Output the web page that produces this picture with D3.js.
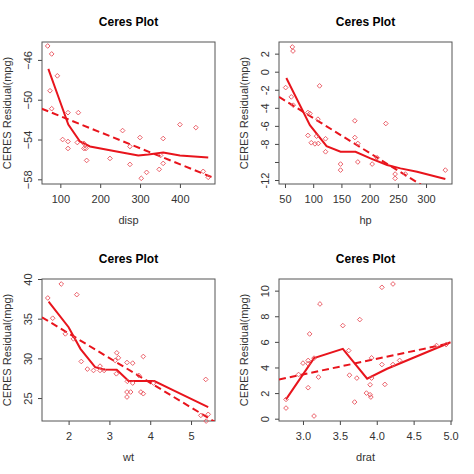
<!DOCTYPE html>
<html><head><meta charset="utf-8">
<script src="https://cdn.jsdelivr.net/npm/d3@7"></script>
<style>body{margin:0;background:#fff}text{font-family:"Liberation Sans",Arial,sans-serif}</style>
</head><body><svg id="c" width="474" height="474"></svg>
<script>
// disp
var dispPts = [[68.3,-44.6],[78.3,-45.4],[92.5,-47.6],[74.1,-49.1],[78.3,-50.9],[119.2,-51.3],[145.1,-51.3],[105.8,-54.0],[119.2,-54.2],[119.2,-54.9],[142.6,-54.3],[159.3,-54.4],[159.3,-54.9],[164.3,-54.9],[166,-56.1],[224.5,-55.9],[256.2,-53.1],[274.6,-54.7],[274.6,-56.5],[299.7,-53.8],[303,-57.9],[316.4,-57.3],[348,-57.0],[358,-53.9],[358,-56.4],[351.5,-55.6],[400,-52.5],[440,-52.8],[458.4,-57.2],[471,-57.8]];
var dispSmooth = [[69.9,-46.9],[95,-49.7],[120,-52.5],[149.3,-54.2],[174.4,-54.7],[241.2,-55.2],[295.5,-55.6],[320.6,-55.5],[358.1,-55.3],[400,-55.6],[471,-55.8]];
var dispFit = [[53.2,-50.9],[487.6,-57.9]];
// hp
var hpPts = [[63,2.74],[64.2,2.29],[51.2,-1.76],[61.2,-2.79],[64.7,-3.71],[90.7,-4.52],[94.2,-4.63],[111.3,-1.57],[108.4,-5.26],[90.7,-7.06],[96.6,-7.87],[103.1,-7.99],[109,-7.95],[106,-7.14],[121.9,-7.43],[121.9,-8.87],[148.5,-10.23],[148.5,-10.9],[173.8,-5.44],[173.8,-7.29],[179.1,-7.95],[179.1,-10.0],[204.5,-10.23],[213.3,-9.53],[228.7,-5.74],[245.2,-11.34],[245.2,-11.82],[263.4,-11.34],[334.2,-10.9]];
var hpSmooth = [[52.4,-0.69],[94.2,-5.92],[123.7,-8.24],[148.5,-8.87],[175,-8.87],[201.5,-9.61],[231,-10.34],[254.6,-10.71],[284.1,-11.08],[334.2,-11.89]];
var hpFit = [[39.4,-2.79],[346,-14.65]];
// wt
var wtPts = [[1.82,39.37],[1.49,37.61],[1.61,35.06],[1.92,33.09],[2.12,32.46],[2.2,38.03],[2.31,29.61],[2.46,28.65],[2.61,28.48],[2.77,29.02],[2.77,28.48],[2.87,28.48],[3.14,29.74],[3.18,30.7],[3.22,30.07],[3.17,28.06],[3.43,29.48],[3.44,27.1],[3.43,25.76],[3.43,25.13],[3.52,25.76],[3.57,29.4],[3.57,26.89],[3.72,27.85],[3.77,25.76],[3.83,30.24],[3.83,25.55],[4.08,26.89],[5.24,22.82],[5.36,27.35],[5.42,22.95],[5.37,22.1]];
var wtSmooth = [[1.51,37.15],[2,33.93],[2.29,31.2],[2.65,28.9],[2.86,28.6],[3.18,28.56],[3.47,27.14],[3.71,27.14],[4.1,27.14],[4.57,25.97],[5.42,23.87]];
var wtFit = [[1.348,35.18],[5.587,21.99]];
// drat
var dratPts = [[2.77,1.51],[2.77,0.83],[2.94,3.45],[3.0,4.34],[3.07,4.55],[3.07,4.29],[3.07,2.42],[3.09,6.62],[3.15,4.73],[3.15,0.21],[3.21,3.25],[3.23,8.96],[3.54,7.27],[3.62,5.32],[3.63,3.4],[3.7,1.3],[3.73,3.17],[3.77,7.74],[3.86,2.0],[3.91,2.65],[3.91,1.87],[3.92,1.69],[3.93,4.75],[3.93,3.17],[4.07,4.23],[4.07,10.26],[4.11,2.68],[4.22,4.23],[4.22,10.52],[4.31,4.55],[4.81,5.71],[4.94,5.79]];
var dratSmooth = [[2.77,1.51],[3.15,4.73],[3.54,5.45],[3.87,3.12],[4.14,3.9],[5.0,5.97]];
var dratFit = [[2.675,3.06],[5.0,5.9]];

var intFmt = d3.format("d");
var panels = [
  {name:"disp", pts:dispPts, smooth:dispSmooth, fit:dispFit, xd:[54,488], yd:[-58.47,-44.2], xt:[100,200,300,400], yt:[-46,-50,-54,-58], ylab:intFmt, xfmt:intFmt},
  {name:"hp", pts:hpPts, smooth:hpSmooth, fit:hpFit, xd:[39.4,346], yd:[-12.44,3.29], xt:[50,100,150,200,250,300], yt:[2,0,-2,-4,-6,-8,-10,-12], ylab:function(d){return d==-10?"":d;}, xfmt:intFmt},
  {name:"wt", pts:wtPts, smooth:wtSmooth, fit:wtFit, xd:[1.348,5.587], yd:[22.11,40], xt:[2,3,4,5], yt:[25,30,35,40], ylab:intFmt, xfmt:intFmt},
  {name:"drat", pts:dratPts, smooth:dratSmooth, fit:dratFit, xd:[2.675,5.02], yd:[-0.18,10.91], xt:[3,3.5,4,4.5,5], yt:[0,2,4,6,8,10], ylab:intFmt, xfmt:d3.format(".1f")}
];

var svg = d3.select("#c");
var red = "#e8141c";

panels.forEach(function(p, i)
{
	var ox = (i % 2) * 237, oy = Math.floor(i / 2) * 237;
	var L = 42, R = 215, T = 42, B = 184;
	var g = svg.append("g").attr("transform", "translate(" + ox + "," + oy + ")");
	var x = d3.scaleLinear().domain(p.xd).range([L, R]);
	var y = d3.scaleLinear().domain(p.yd).range([B, T]);
	var clipId = "clip" + i;
	g.append("clipPath").attr("id", clipId).append("rect").attr("x", L).attr("y", T).attr("width", R - L).attr("height", B - T);

	g.append("text").attr("x", (L + R) / 2).attr("y", 26).attr("text-anchor", "middle")
		.style("font-size", "12px").style("font-weight", "bold").text("Ceres Plot");

	// axes
	var xa = g.append("g").attr("transform", "translate(0," + B + ")")
		.call(d3.axisBottom(x).tickValues(p.xt).tickSize(4).tickSizeOuter(0).tickFormat(p.xfmt));
	var ya = g.append("g").attr("transform", "translate(" + L + ",0)")
		.call(d3.axisLeft(y).tickValues(p.yt).tickSize(4).tickSizeOuter(0).tickFormat(p.ylab));
	[xa, ya].forEach(function(a){
		a.selectAll("path").remove();
		a.selectAll("line").attr("stroke", "#444");
		a.selectAll("text").style("font-size", "11px").attr("fill", "#333");
	});
	xa.selectAll("text").attr("dy", "1.1em");
	ya.selectAll("text").attr("text-anchor", "middle").attr("dy", 0).attr("x", 0)
		.attr("transform", "translate(-10,0) rotate(-90)");

	g.append("rect").attr("x", L).attr("y", T).attr("width", R - L).attr("height", B - T)
		.attr("fill", "none").attr("stroke", "#555").attr("stroke-width", 1);

	g.append("text").attr("x", (L + R) / 2).attr("y", 224).attr("text-anchor", "middle")
		.style("font-size", "11px").attr("fill", "#333").text(p.name);
	g.append("text").attr("transform", "translate(11," + (T + B) / 2 + ") rotate(-90)").attr("text-anchor", "middle")
		.style("font-size", "11px").attr("fill", "#333").text("CERES Residual(mpg)");

	var plot = g.append("g").attr("clip-path", "url(#" + clipId + ")");
	var line = d3.line().x(function(d){ return x(d[0]); }).y(function(d){ return y(d[1]); });
	plot.append("path").attr("d", line(p.fit)).attr("fill", "none").attr("stroke", red)
		.attr("stroke-width", 2).attr("stroke-dasharray", "7,4");
	plot.append("path").attr("d", line(p.smooth)).attr("fill", "none").attr("stroke", red).attr("stroke-width", 2);
	g.selectAll(".pt").data(p.pts).enter().append("path")
		.attr("d", d3.symbol().type(d3.symbolDiamond2).size(14))
		.attr("transform", function(d){ return "translate(" + x(d[0]) + "," + y(d[1]) + ")"; })
		.attr("fill", "none").attr("stroke", "#e8505a").attr("stroke-width", 0.9);
});
</script></body></html>
